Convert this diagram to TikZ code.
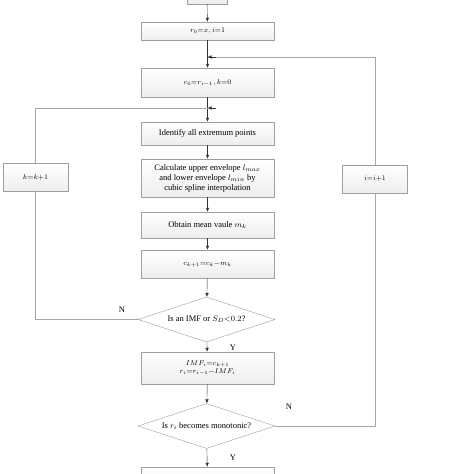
\documentclass[tikz,border=0pt]{standalone}
\usepackage{fontspec}
\setmainfont{Liberation Serif}
\usetikzlibrary{positioning,shapes.geometric,arrows.meta}
\tikzset{proc/.style={rectangle,draw=gray!75,top color=white,bottom color=gray!14,inner sep=1pt,minimum width=133pt,align=center,font=\fontsize{8.5}{10}\selectfont},
	 form/.style={proc,font=\fontsize{7}{8.5}\selectfont},
	 side/.style={form,minimum width=65pt,minimum height=28pt},
	 test/.style={diamond,aspect=3,draw=gray!75,fill=white,inner sep=0pt,minimum width=137pt,minimum height=45pt,font=\fontsize{8.5}{10}\selectfont},
	 arr/.style={draw=black!80,-{Latex[length=4pt,width=3.5pt]}},
	 back/.style={draw=gray!70},
	 yn/.style={font=\fontsize{8.5}{10}\selectfont}
	 }

\begin{document}
\begin{tikzpicture}[x=1pt,y=1pt]
	\clip (0,0) rectangle (474,-474);
	\useasboundingbox (0,0) rectangle (474,-474);
	\node[proc, minimum width=40pt, minimum height=28pt] (start) at (207,10) {};
	\node[form, minimum height=18pt] (init) at (207.5,-31) {$r_0{=}x, i{=}1$};
	\node[form, minimum height=29pt] (resid) at (207.5,-82.5) {$c_0{=}r_{i-1}, k{=}0$};
	\node[proc, minimum height=23pt] (extr) at (207.5,-133.5) {Identify all extremum points};
	\node[proc, minimum height=38pt] (env) at (207.5,-178) {Calculate upper envelope $l_{max}$\\ and lower envelope $l_{min}$ by\\ cubic spline interpolation};
	\node[proc, minimum height=26pt] (mean) at (207.5,-225) {Obtain mean vaule $m_k$};
	\node[form, minimum height=28pt] (sift) at (207.5,-264) {$c_{k+1}{=}c_k{-}m_k$};
	\node[test] (imf) at (206.5,-319.5) {Is an IMF or $S_D{<}0.2$?};
	\node[form, minimum height=32pt] (save) at (207.5,-368) {$IMF_i{=}c_{k+1}$\\ $r_i{=}r_{i-1}{-}IMF_i$};
	\node[test] (mono) at (206.5,-426) {Is $r_i$ becomes monotonic?};
	\node[proc, minimum height=28pt] (stop) at (207.5,-481) {};
	\node[side] (kinc) at (35.5,-177) {$k{=}k{+}1$};
	\node[side] (iinc) at (375,-179) {$i{=}i{+}1$};
	\coordinate (j1) at (207.5,-57);
	\coordinate (j2) at (207.5,-108);
	% main line
	\draw[arr] (start) -- (init);
	\draw[arr] (init) -- (resid);
	\draw[arr] (resid) -- (extr);
	\draw[arr] (extr) -- (env);
	\draw[arr] (env) -- (mean);
	\draw[arr] (mean) -- (sift);
	\draw[arr] (sift) -- (imf);
	\draw[arr] (imf) -- (save);
	\draw[arr] (save) -- (mono);
	\draw[arr] (mono) -- (stop);
	% loops back
	\draw[back] (imf.west) -| (kinc.south);
	\draw[back] (kinc.north) |- (j2);
	\draw[arr] ([xshift=8pt]j2) -- (j2);
	\draw[back] (mono.east) -| (iinc.south);
	\draw[back] (iinc.north) |- (j1);
	\draw[arr] ([xshift=8pt]j1) -- (j1);
	\node[yn] (n1) at (122,-310) {N};
	\node[yn] (y1) at (233,-348) {Y};
	\node[yn] (n2) at (289,-407) {N};
	\node[yn] (y2) at (233,-458) {Y};
\end{tikzpicture}
\end{document}
